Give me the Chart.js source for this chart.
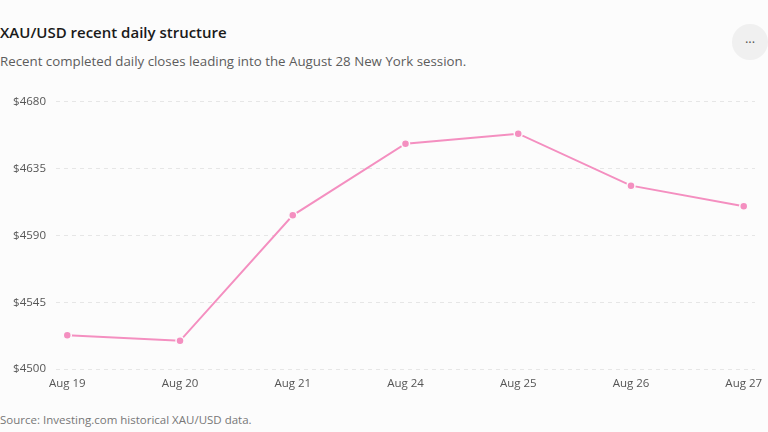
<!DOCTYPE html>
<html>
<head>
<meta charset="utf-8">
<script src="https://cdn.jsdelivr.net/npm/chart.js@4"></script>
<style>
  html, body { margin: 0; padding: 0; width: 768px; height: 432px; background: #fcfcfc; overflow: hidden; font-family: "Open Sans", "Noto Sans", sans-serif; }
  #title { position: absolute; left: 0; top: 22px; font-size: 15px; font-weight: 600; color: #1a1a1a; white-space: nowrap; }
  #subtitle { position: absolute; left: 0; top: 52px; font-size: 13.3px; color: #5c5c5c; white-space: nowrap; }
  #menu { position: absolute; left: 732px; top: 24px; width: 36px; height: 36px; border-radius: 50%; background: #f0f0f0; color: #555; font-size: 13px; text-align: center; line-height: 36px; }
  #wrap { position: absolute; left: 0; top: 85px; width: 768px; height: 306px; }
  #source { position: absolute; left: 0; top: 412px; font-size: 11.5px; color: #777; white-space: nowrap; }
</style>
</head>
<body>
<div id="title">XAU/USD recent daily structure</div>
<div id="subtitle">Recent completed daily closes leading into the August 28 New York session.</div>
<div id="menu">···</div>
<div id="wrap"><canvas id="c"></canvas></div>
<div id="source">Source: Investing.com historical XAU/USD data.</div>
<script>
const categories = ["Aug 19", "Aug 20", "Aug 21", "Aug 24", "Aug 25", "Aug 26", "Aug 27"];
const closes = [4522.8, 4519.1, 4603.6, 4651.8, 4658.6, 4623.6, 4609.7];
const yTicks = [4500, 4545, 4590, 4635, 4680];

const points = closes.map((v, i) => ({ x: i, y: v }));

new Chart(document.getElementById('c'), {
  type: 'line',
  data: {
    datasets: [{
      label: 'XAU/USD close',
      data: points,
      borderColor: '#f48fc0',
      backgroundColor: '#f48fc0',
      borderWidth: 2,
      pointRadius: 4,
      pointBorderColor: '#fcfcfc',
      pointBorderWidth: 1.5,
      pointBackgroundColor: '#f48fc0',
      tension: 0
    }]
  },
  options: {
    responsive: true,
    maintainAspectRatio: false,
    animation: false,
    layout: { padding: { left: 0, right: 13, top: 6, bottom: 0 } },
    plugins: { legend: { display: false }, tooltip: { enabled: false } },
    scales: {
      x: {
        type: 'linear',
        min: -0.1,
        max: categories.length - 0.9,
        afterBuildTicks: s => { s.ticks = categories.map((c, i) => ({ value: i })); },
        grid: { display: false },
        border: { display: false },
        ticks: {
          callback: (v) => categories[v],
          color: '#555',
          font: { family: "'Open Sans', 'Noto Sans', sans-serif", size: 11.5 },
          maxRotation: 0,
          padding: 0
        }
      },
      y: {
        min: yTicks[0],
        max: yTicks[yTicks.length - 1],
        afterBuildTicks: s => { s.ticks = yTicks.map(v => ({ value: v })); },
        afterFit: s => { s.width = 56; },
        grid: { color: '#e6e6e6', lineWidth: 1, drawTicks: false },
        border: { display: false, dash: [4, 4] },
        ticks: {
          callback: v => '$' + v,
          color: '#555',
          font: { family: "'Open Sans', 'Noto Sans', sans-serif", size: 11.5 },
          padding: 10
        }
      }
    }
  }
});
</script>
</body>
</html>
